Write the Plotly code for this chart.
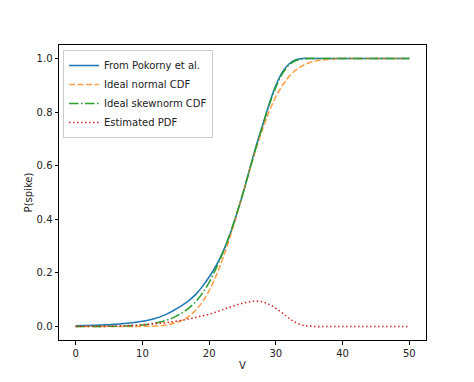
import plotly.graph_objects as go

V = list(range(0, 51))

pokorny = [0.003, 0.004, 0.004, 0.005, 0.006, 0.007, 0.009, 0.011, 0.013, 0.016,
           0.020, 0.025, 0.031, 0.040, 0.051, 0.065, 0.080, 0.098, 0.120, 0.150,
           0.185, 0.225, 0.275, 0.335, 0.410, 0.490, 0.580, 0.670, 0.750, 0.830,
           0.900, 0.950, 0.980, 0.995, 1.000] + [1.0] * 16

normal_cdf = [0.000, 0.000, 0.000, 0.000, 0.000, 0.000, 0.000, 0.000, 0.000, 0.000,
              0.001, 0.001, 0.002, 0.004, 0.008, 0.014, 0.024, 0.039, 0.062, 0.092,
              0.134, 0.187, 0.251, 0.324, 0.405, 0.491, 0.578, 0.660, 0.736, 0.802,
              0.857, 0.900, 0.933, 0.957, 0.973, 0.984, 0.991, 0.995, 0.997, 0.999] + [1.0] * 11

skew_cdf = [0.000, 0.000, 0.000, 0.000, 0.000, 0.001, 0.001, 0.002, 0.003, 0.004,
            0.006, 0.009, 0.013, 0.019, 0.027, 0.038, 0.052, 0.070, 0.093, 0.125,
            0.165, 0.215, 0.272, 0.338, 0.412, 0.492, 0.578, 0.665, 0.748, 0.826,
            0.893, 0.944, 0.976, 0.992, 0.998] + [1.0] * 16

pdf = [0.000, 0.001, 0.001, 0.001, 0.001, 0.002, 0.002, 0.003, 0.004, 0.005,
       0.007, 0.009, 0.011, 0.013, 0.016, 0.020, 0.024, 0.029, 0.034, 0.040,
       0.046, 0.054, 0.063, 0.072, 0.080, 0.087, 0.092, 0.095, 0.092, 0.083,
       0.068, 0.050, 0.031, 0.015, 0.005, 0.002] + [0.0] * 15

names = ["From Pokorny et al.", "Ideal normal CDF", "Ideal skewnorm CDF", "Estimated PDF"]
colors = ["#1f77b4", "#ff7f0e", "#2ca02c", "#d62728"]
dashes = ["solid", "6px,2.5px", "9.5px,2.5px,1.5px,2.5px", "1.5px,2.5px"]
opac = [1.0, 0.75, 1.0, 1.0]
series = [pokorny, normal_cdf, skew_cdf, pdf]

fig = go.Figure()
for name, col, d, o, ys in zip(names, colors, dashes, opac, series):
    fig.add_trace(go.Scatter(x=V, y=ys, mode="lines", name=name, opacity=o,
                             line=dict(color=col, dash=d, width=1.55, shape="spline")))

axis_common = dict(showline=True, linecolor="black", linewidth=1, mirror=True,
                   ticks="outside", ticklen=3.5, tickwidth=1, tickcolor="black",
                   showgrid=False, zeroline=False, automargin=False,
                   tickfont=dict(family="DejaVu Sans", size=10, color="#222"))

# page body has an 8px margin, so the figure is offset by 8px
fig.update_layout(
    width=458, height=366,
    margin=dict(l=51, r=40, t=37, b=34, autoexpand=False),
    paper_bgcolor="white", plot_bgcolor="white",
    font=dict(family="DejaVu Sans", size=10, color="#222"),
    xaxis=dict(range=[-2.5, 52.5], tickvals=[0, 10, 20, 30, 40, 50],
               title=dict(text="V", standoff=4, font=dict(size=10)), **axis_common),
    yaxis=dict(range=[-0.05, 1.05], tickvals=[0, 0.2, 0.4, 0.6, 0.8, 1.0], tickformat=".1f",
               title=dict(text="P(spike)", standoff=2, font=dict(size=10)), **axis_common),
    legend=dict(x=0.011, y=0.983, xanchor="left", yanchor="top",
                bgcolor="rgba(255,255,255,0.8)", bordercolor="#cccccc", borderwidth=1,
                font=dict(size=10), tracegroupgap=0, itemwidth=30),
    showlegend=True,
)

fig.write_html("out.html")
